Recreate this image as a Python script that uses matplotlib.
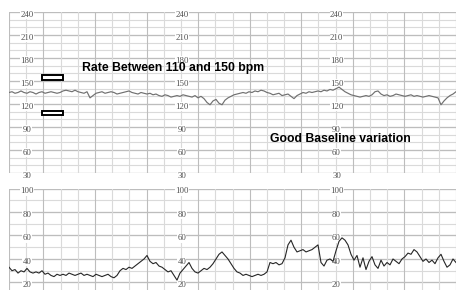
import numpy as np
import matplotlib
matplotlib.use("Agg")
import matplotlib.pyplot as plt
from matplotlib.patches import Rectangle

# ---- data ----
fhr_bpm = [
    135,136,134,135,137,135,134,136,135,133,135,136,134,135,136,135,134,135,
    137,138,137,136,138,136,135,134,136,
    128,131,134,
    135,136,134,135,136,135,133,134,135,136,137,135,134,133,135,134,133,134,132,133,
    131,130,132,131,129,130,131,130,132,131,130,129,131,128,130,
    127,122,119,124,126,121,119,125,128,
    130,132,133,134,135,134,136,135,137,136,138,137,
    135,134,132,133,134,131,132,133,130,127,
    131,133,135,134,136,135,136,
    137,136,138,137,139,138,140,142,139,
    136,134,132,131,130,129,130,131,130,132,
    136,137,133,
    131,132,130,131,133,132,131,130,131,132,130,131,130,129,130,131,130,129,128,
    119,124,128,131,133,136,
]
toco = [
    33,30,31,28,30,29,32,29,28,
    29,28,30,27,28,26,25,27,26,
    27,26,28,27,26,27,28,26,27,26,25,27,26,25,26,27,
    25,24,26,30,
    32,31,33,32,34,
    36,38,40,43,
    38,36,37,34,33,
    31,29,30,26,22,28,
    31,34,37,32,29,
    28,30,32,31,33,36,40,
    44,46,43,40,36,32,29,
    28,26,27,26,25,26,27,26,27,
    29,37,36,37,35,36,41,
    52,56,50,46,47,
    48,46,47,48,50,52,
    37,34,39,40,38,47,
    55,58,56,52,44,39,
    43,33,41,31,38,42,
    35,32,39,34,37,35,40,38,36,
    40,42,45,44,48,46,42,
    38,40,37,39,36,41,44,
    38,33,35,40,37,
]
fhr_ticks = [240, 210, 180, 150, 120, 90, 60, 30]
toco_ticks = [100, 80, 60, 40, 20]
label_columns = [1, 10, 19]
annot_rate = "Rate Between 110 and 150 bpm"
annot_var = "Good Baseline variation"

W, H = 468, 296
fig = plt.figure(figsize=(W / 100, H / 100), dpi=100)
fig.patch.set_facecolor("white")

NDIV = 26
x_left, x_right = 9, 456

def frac_rect(top_px, bot_px):
    return [x_left / W, 1 - bot_px / H, (x_right - x_left) / W, (bot_px - top_px) / H]

ax1 = fig.add_axes(frac_rect(12, 173))
ax2 = fig.add_axes(frac_rect(188.5, 290))

minor_c = "#dadada"
major_c = "#bdbdbd"

def setup(ax, ylo, yhi, minor_vals, major_vals, ticks, off):
    ax.set_xlim(0, NDIV)
    ax.set_ylim(ylo, yhi)
    ax.axis("off")
    for v in minor_vals:
        ax.axhline(v, color=minor_c, lw=0.8, zorder=0)
    for v in major_vals:
        ax.axhline(v, color=major_c, lw=0.9, zorder=0)
    for k in range(NDIV + 1):
        c = major_c if k % 3 == 2 or k in (0, NDIV) else minor_c
        ax.axvline(k, color=c, lw=0.8, zorder=0)
    for col in label_columns:
        for t in ticks:
            ax.text(col + 0.05, t - off, str(t), ha="center", va="center",
                    fontsize=6.3, family="Liberation Serif", color="#505050",
                    clip_on=False, zorder=1,
                    bbox=dict(facecolor="white", edgecolor="none", pad=0.2))

setup(ax1, 30, 240, range(30, 241, 10), fhr_ticks, fhr_ticks, 3.5)
setup(ax2, 13.6, 100, range(20, 101, 10), toco_ticks, toco_ticks, 2.5)

t1 = np.linspace(0, NDIV, len(fhr_bpm))
t2 = np.linspace(0, NDIV, len(toco))
ax1.plot(t1, fhr_bpm, color="#707070", lw=0.85, zorder=3)
ax2.plot(t2, toco, color="#262626", lw=0.8, zorder=3)

for (y0, y1) in [(151.2, 157.8), (105.6, 110.8)]:
    ax1.add_patch(Rectangle((1.92, y0), 1.22, y1 - y0, facecolor="white",
                            edgecolor="black", lw=1.4, zorder=4))

ax1.text(4.25, 167.3, annot_rate, ha="left", va="center", fontsize=8.8,
         family="Liberation Sans", weight="bold", color="black", zorder=5)
ax1.text(15.18, 74.3, annot_var, ha="left", va="center", fontsize=8.8,
         family="Liberation Sans", weight="bold", color="black", zorder=5)

fig.savefig("out.png", dpi=100, facecolor="white")
